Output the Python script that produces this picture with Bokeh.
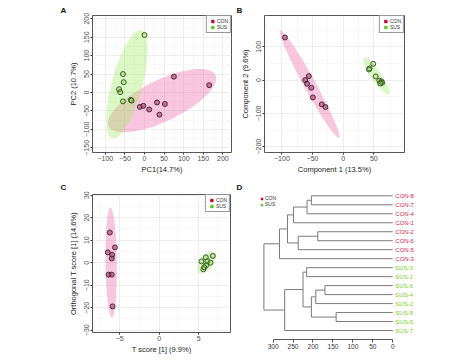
import numpy as np
from bokeh.plotting import figure
from bokeh.layouts import row, column
from bokeh.models import Range1d, FixedTicker, Legend, LegendItem
from bokeh.embed import file_html
from bokeh.resources import INLINE
from bokeh.core.properties import value

FONT = "Liberation Sans"

# ---------------- data ----------------
# Panel A: PCA scores
pca_con_x = [75, 165, -12, -3, 12, 32, 52, 38]
pca_con_y = [43, 20, -39, -36, -46, -27, -31, -60]
pca_sus_x = [0, -55, -53, -65, -62, -55, -35, -33]
pca_sus_y = [156, 50, 28, 9, 1, -24, -20, -22]

# Panel B: PLS-DA scores
pls_con_x = [-95, -56, -62, -59, -52, -49.5, -35, -29]
pls_con_y = [128, 12, 0, -11, -23, -52, -73, -81]
pls_sus_x = [49, 43, 42, 53, 59, 62.5, 63.5, 60.5]
pls_sus_y = [49, 35, 32, 11, -2, -4, -8, -10]

# Panel C: OPLS-DA scores
opls_con_x = [-6.25, -5.6, -6.5, -5.95, -6.0, -6.4, -6.0, -5.9]
opls_con_y = [13.4, 6.8, 4.6, 3.5, 1.9, -5.3, -5.3, -19.4]
opls_sus_x = [5.35, 5.9, 6.8, 6.1, 6.5, 5.95, 5.6, 5.7]
opls_sus_y = [0.6, 2.4, 3.0, 0.6, 0.0, -1.1, -2.9, -2.0]

# Panel D: hierarchical clustering
leaf_order = ["CON-8", "CON-7", "CON-4", "CON-1", "CON-2", "CON-6", "CON-5", "CON-3",
              "SUS-3", "SUS-1", "SUS-6", "SUS-4", "SUS-2", "SUS-8", "SUS-5", "SUS-7"]
merge_a = ["CON-8", "m0", "m1", "CON-2", "m3", "m2", "m5",
           "SUS-3", "SUS-6", "m8", "SUS-8", "m9", "m7", "m12", "m6"]
merge_b = ["CON-7", "CON-4", "CON-1", "CON-6", "CON-5", "m4", "CON-3",
           "SUS-1", "SUS-4", "SUS-2", "SUS-5", "m10", "m11", "SUS-7", "m13"]
merge_height = [204, 215, 249, 188, 237, 264, 284, 216, 170, 193, 142, 204, 225, 271, 323]
dendro_ticks = [0, 50, 100, 150, 200, 250, 300]

groups = ["CON", "SUS"]

# ---------------- styles ----------------
CON_ELL = "#EE6AAA"
SUS_ELL = "#9BEA5A"
CON_PT = "#9C2E5C"
SUS_PT = "#7ACB3A"
CON_LINE = "#3A2030"
SUS_LINE = "#2E4D1E"
CON_LEG = "#CC0033"
SUS_LEG = "#55CC22"
CON_TXT = "#DC1C4B"
SUS_TXT = "#78D225"
NAN = [float("nan")]


def conf_ellipse(xs, ys, level=0.95, npts=120):
    xy = np.column_stack([xs, ys]).astype(float)
    mu = xy.mean(axis=0)
    cov = np.cov(xy, rowvar=False)
    vals, vecs = np.linalg.eigh(cov)
    r = np.sqrt(-2 * np.log(1 - level))
    t = np.linspace(0, 2 * np.pi, npts)
    circ = np.stack([np.cos(t), np.sin(t)])
    pts = vecs @ (np.sqrt(vals)[:, None] * r * circ)
    return mu[0] + pts[0], mu[1] + pts[1]


def style_title(p, letter, offset, standoff):
    p.title.text = letter
    p.title.align = "left"
    p.title.offset = offset
    p.title.standoff = standoff
    p.title.text_font = FONT
    p.title.text_font_size = "8px"
    p.title.text_font_style = "bold"
    p.title.text_color = "#111111"


def style_axes(p):
    for ax in (p.xaxis[0], p.yaxis[0]):
        ax.axis_line_color = None
        ax.major_tick_line_color = "#333333"
        ax.major_tick_out = 2
        ax.major_tick_in = 0
        ax.minor_tick_out = 0
        ax.minor_tick_in = 0
        ax.major_label_text_font = FONT
        ax.major_label_text_font_size = "7px"
        ax.major_label_text_color = "#4d4d4d"
        ax.major_label_standoff = 1
        ax.axis_label_text_font = FONT
        ax.axis_label_text_font_size = "7.5px"
        ax.axis_label_text_font_style = "normal"
        ax.axis_label_text_color = "#222222"
    p.xaxis[0].axis_label_standoff = 1
    p.yaxis[0].axis_label_standoff = 4
    p.yaxis[0].major_label_orientation = "vertical"


def score_panel(width, height, borders, xr, yr, xt, xmt, yt, ymt, xlabel, ylabel,
                con_x, con_y, sus_x, sus_y, letter, t_off, t_stand):
    left, right, top, bottom = borders
    p = figure(width=width, height=height, x_range=Range1d(*xr), y_range=Range1d(*yr),
               output_backend="svg", toolbar_location=None,
               min_border_left=left, min_border_right=right,
               min_border_top=top, min_border_bottom=bottom,
               background_fill_color="white", border_fill_color="white")
    style_title(p, letter, t_off, t_stand)
    p.outline_line_color = "#555555"
    p.outline_line_width = 1
    p.xaxis.ticker = FixedTicker(ticks=xt, minor_ticks=xmt)
    p.yaxis.ticker = FixedTicker(ticks=yt, minor_ticks=ymt)
    p.xaxis.axis_label = xlabel
    p.yaxis.axis_label = ylabel
    style_axes(p)
    p.grid.grid_line_color = "#e6e6e6"
    p.grid.grid_line_width = 0.7
    p.grid.minor_grid_line_color = "#f3f3f3"
    p.grid.minor_grid_line_width = 0.6

    ex, ey = conf_ellipse(con_x, con_y)
    p.patch(ex, ey, fill_color=CON_ELL, fill_alpha=0.38, line_color=None)
    ex, ey = conf_ellipse(sus_x, sus_y)
    p.patch(ex, ey, fill_color=SUS_ELL, fill_alpha=0.35, line_color=None)

    p.scatter(con_x, con_y, size=5, fill_color=CON_PT, fill_alpha=0.55,
              line_color=CON_LINE, line_width=0.9)
    p.scatter(sus_x, sus_y, size=5, fill_color=SUS_PT, fill_alpha=0.35,
              line_color=SUS_LINE, line_width=0.9)

    rc = p.scatter(NAN, NAN, marker="square", fill_color=CON_LEG, line_color=CON_LEG)
    rs = p.scatter(NAN, NAN, marker="square", fill_color=SUS_LEG, line_color=SUS_LEG)
    leg = Legend(items=[LegendItem(label=groups[0], renderers=[rc]),
                        LegendItem(label=groups[1], renderers=[rs])],
                 location="top_right", margin=0, padding=2, spacing=0,
                 glyph_width=7, glyph_height=6, label_height=6, label_width=10,
                 label_standoff=1,
                 label_text_font=FONT, label_text_font_size="5px",
                 label_text_color="#333333", border_line_color="#333333",
                 border_line_width=1, background_fill_color="white")
    p.add_layout(leg)
    return p


pA = score_panel(232, 176, (92, 1, 15, 21), (-132.7, 221.9), (-162.6, 208.8),
                 [-100, -50, 0, 50, 100, 150, 200], [-125, -75, -25, 25, 75, 125, 175],
                 [-150, -100, -50, 0, 50, 100, 150, 200], [-125, -75, -25, 25, 75, 125, 175],
                 "PC1(14.7%)", "PC2 (10.7%)",
                 pca_con_x, pca_con_y, pca_sus_x, pca_sus_y, "A", -32, 2)

pB = score_panel(234, 176, (32, 62, 15, 21), (-128.4, 100), (-217.6, 194.1),
                 [-100, -50, 0, 50], [-125, -75, -25, 25, 75],
                 [-200, -100, 0, 100], [-150, -50, 50, 150],
                 "Component 1 (13.5%)", "Component 2 (9.6%)",
                 pls_con_x, pls_con_y, pls_sus_x, pls_sus_y, "B", -28, 2)

pC = score_panel(232, 180, (92, 2, 18, 23), (-8.44, 9.03), (-31.0, 30.3),
                 [-5, 0, 5], [-7.5, -2.5, 2.5, 7.5],
                 [-30, -20, -10, 0, 10, 20, 30], [-25, -15, -5, 5, 15, 25],
                 "T score [1] (9.9%)", "Orthogonal T score [1] (14.6%)",
                 opls_con_x, opls_con_y, opls_sus_x, opls_sus_y, "C", -32, 6)

# ---------------- dendrogram ----------------
n = len(leaf_order)
pos = {name: n - 1 - i for i, name in enumerate(leaf_order)}
hgt = {name: 0.0 for name in leaf_order}
sx0, sy0, sx1, sy1 = [], [], [], []
for k, (a, b, h) in enumerate(zip(merge_a, merge_b, merge_height)):
    ya, yb = pos[a], pos[b]
    sx0 += [hgt[a], hgt[b], h]
    sy0 += [ya, yb, ya]
    sx1 += [h, h, h]
    sy1 += [ya, yb, yb]
    key = f"m{k}"
    pos[key] = (ya + yb) / 2
    hgt[key] = h

pD = figure(width=234, height=180, x_range=Range1d(349.1, -94.5), y_range=Range1d(-1.0, 15.37),
            output_backend="svg", toolbar_location=None,
            min_border_left=21, min_border_right=36, min_border_top=16, min_border_bottom=17,
            background_fill_color="white", border_fill_color="white")
style_title(pD, "D", -17, 1)
pD.outline_line_color = None
pD.grid.grid_line_color = None
pD.yaxis.visible = False
xa = pD.xaxis[0]
xa.ticker = FixedTicker(ticks=dendro_ticks)
xa.bounds = (min(dendro_ticks), max(dendro_ticks))
xa.axis_line_color = "#555555"
xa.major_tick_line_color = "#555555"
xa.major_tick_out = 3
xa.major_tick_in = 0
xa.minor_tick_out = 0
xa.minor_tick_in = 0
xa.major_label_text_font = FONT
xa.major_label_text_font_size = "6.5px"
xa.major_label_text_color = "#333333"
xa.major_label_standoff = 1

pD.segment(sx0, sy0, sx1, sy1, line_color="#7a7a7a", line_width=1)

leaf_y = [pos[nm] for nm in leaf_order]
leaf_col = [CON_TXT if nm.startswith(groups[0]) else SUS_TXT for nm in leaf_order]
pD.text(x=[0] * n, y=leaf_y, text=leaf_order, text_color=leaf_col, x_offset=2.5,
        text_font=value(FONT), text_font_size="6px", text_baseline="middle",
        text_align="left")

dc = pD.scatter(NAN, NAN, marker="circle", fill_color=CON_LEG, line_color=CON_LEG)
ds = pD.scatter(NAN, NAN, marker="circle", fill_color=SUS_LEG, line_color=SUS_LEG)
legD = Legend(items=[LegendItem(label=groups[0], renderers=[dc]),
                     LegendItem(label=groups[1], renderers=[ds])],
              location=(6, 132), margin=0, padding=0, spacing=0,
              glyph_width=5, glyph_height=5, label_height=6, label_width=10,
              label_standoff=1,
              label_text_font=FONT, label_text_font_size="5px",
              label_text_color="#333333", border_line_color=None,
              background_fill_alpha=0)
pD.add_layout(legD)

layout = column(row(pA, pB), row(pC, column(pD)))

open("out.html", "w").write(file_html(layout, INLINE))
